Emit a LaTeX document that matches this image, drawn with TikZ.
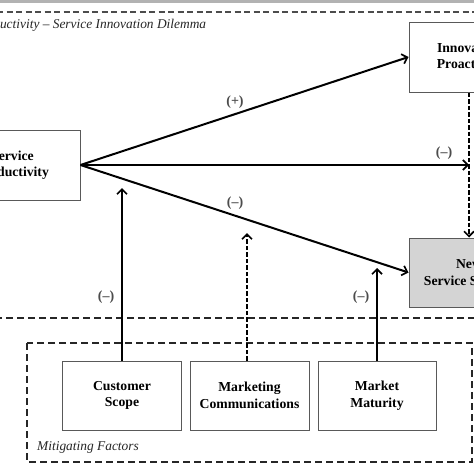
\documentclass[tikz,border=0pt]{standalone}
\usepackage{fontspec}
\setmainfont{Liberation Serif}
\usetikzlibrary{arrows.meta}
\tikzset{
  box/.style={draw=black!65, line width=1pt, align=center, inner sep=0pt,
    font=\bfseries\fontsize{13.7}{16.5}\selectfont},
  arr/.style={line width=2pt, -{Straight Barb[length=5pt,width=10pt,line width=1.7pt]}},
  darr/.style={line width=2.3pt, dash pattern=on 4.5pt off 2pt, -{Straight Barb[length=5pt,width=10pt,line width=1.7pt]}},
  frame/.style={line width=1.6pt, dash pattern=on 7pt off 4pt, black!85},
  sign/.style={font=\bfseries\fontsize{14}{16}\selectfont, text=black!70, inner sep=0pt},
  captext/.style={font=\itshape\fontsize{13.4}{16}\selectfont, inner sep=0pt, anchor=west, text=black!85}
}
\begin{document}
\begin{tikzpicture}[x=1pt,y=-1pt]
\path[use as bounding box, clip] (0,0) rectangle (474,474);
\fill[white] (0,0) rectangle (474,474);
\fill[black!30] (0,0) rectangle (474,2.5);
% frames
\draw[frame, line width=1.2pt, dash pattern=on 6pt off 3.5pt, black!70] (-60,12) -- (540,12);
\draw[frame] (-60,318) -- (540,318);
\draw[frame] (27,343) rectangle (472,462);
\node[captext] (title) at (-26.5,25) {Productivity – Service Innovation Dilemma};
\node[captext] (mit) at (37,447) {Mitigating Factors};
% boxes
\node[box, minimum width=135pt, minimum height=70pt] (sp) at (12.5,165) {Service\\Productivity};
\node[box, minimum width=120pt, minimum height=70pt] (ip) at (469,57) {Innovation\\Proactivity};
\node[box, fill=black!17, minimum width=120pt, minimum height=69pt] (ns) at (469,272.5) {New\\Service Success};
\node[box, minimum width=119pt, minimum height=69pt] (cs) at (122,395.5) {Customer\\Scope};
\node[box, minimum width=119pt, minimum height=69pt] (mc) at (249.5,395.5) {Marketing\\Communications};
\node[box, minimum width=118pt, minimum height=69pt] (mm) at (377,395.5) {Market\\Maturity};
% coordinates
\coordinate (m1) at (469,165);
\coordinate (c1) at (122,188);
\coordinate (c2) at (247,233);
\coordinate (c3) at (377,268);
% connectors
\draw[darr] (ip.south) -- (ns.north);
\draw[arr] (sp.east) -- (ip.west);
\draw[arr] (sp.east) -- (m1);
\draw[arr] (sp.east) -- (ns.west);
\draw[arr] (cs.north) -- (c1);
\draw[darr] (mc.north -| c2) -- (c2);
\draw[arr] (mm.north) -- (c3);
% signs
\node[sign] (s1) at (235,102) {(+)};
\node[sign] (s2) at (235,203) {(–)};
\node[sign] (s3) at (444,153) {(–)};
\node[sign] (s4) at (106,297) {(–)};
\node[sign] (s5) at (361,297) {(–)};
\end{tikzpicture}
\end{document}
